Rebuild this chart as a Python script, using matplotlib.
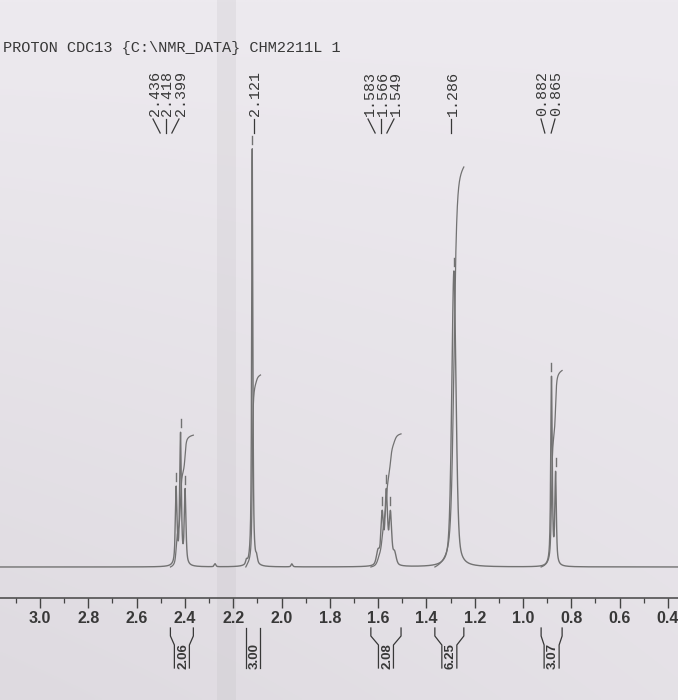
import numpy as np
import matplotlib
matplotlib.use("Agg")
import matplotlib.pyplot as plt

# ---------------- data ----------------
title = "PROTON CDC13 {C:\\NMR_DATA} CHM2211L 1"

peak_ppm = [2.436, 2.418, 2.399, 2.121, 1.583, 1.566, 1.549, 1.286, 0.882, 0.865]
peak_height = [76, 130, 74, 418, 50, 72, 50, 296, 188, 90]
peak_hwhm = [0.0040, 0.0040, 0.0040, 0.0028, 0.0060, 0.0060, 0.0060, 0.0105, 0.0036, 0.0036]
peak_lorentz = [0.7, 0.7, 0.7, 0.8, 0.5, 0.5, 0.5, 0.45, 0.7, 0.7]
peak_labels = ["2.436", "2.418", "2.399", "2.121", "1.583", "1.566", "1.549",
               "1.286", "0.882", "0.865"]
peak_group = [0, 0, 0, 1, 2, 2, 2, 3, 4, 4]

minor_ppm = [2.275, 2.145, 2.103, 1.957, 1.600, 1.532]
minor_height = [3, 4, 6, 3, 14, 12]
minor_hwhm = [0.004, 0.004, 0.004, 0.004, 0.008, 0.008]

integral_values = [2.06, 3.00, 2.08, 6.25, 3.07]
integral_labels = ["2.06", "3.00", "2.08", "6.25", "3.07"]
integral_start = [2.460, 2.148, 1.630, 1.365, 0.925]
integral_end = [2.365, 2.087, 1.505, 1.245, 0.838]

tick_values = [3.0, 2.8, 2.6, 2.4, 2.2, 2.0, 1.8, 1.6, 1.4, 1.2, 1.0, 0.8, 0.6, 0.4]
tick_labels = ["3.0", "2.8", "2.6", "2.4", "2.2", "2.0", "1.8", "1.6", "1.4",
               "1.2", "1.0", "0.8", "0.6", "0.4"]

# ---------------- layout ----------------
W, H = 678, 700
PX_PER_PPM = 241.5
X3_PX = 40.0          # pixel x of 3.0 ppm
BASE_PX = 567.0       # pixel y of spectrum baseline
INT_SCALE = 64.0      # px per integral unit
label_px = [153, 166, 179, 254, 368, 381, 394, 451, 541, 555]

PAPER = "#e8e5e9"
INK = "#383838"
LINE = "#727272"


def px2ppm(px):
    return 3.0 - (px - X3_PX) / PX_PER_PPM


def ppm2px(p):
    return X3_PX + (3.0 - p) * PX_PER_PPM


def ypx(py):
    return BASE_PX - py


fig = plt.figure(figsize=(W / 100, H / 100), dpi=100, facecolor=PAPER)
ax = fig.add_axes([0, 0, 1, 1], facecolor=PAPER)

# paper shading (photo)
gy, gx = np.mgrid[0:1:200j, 0:1:200j]
shade = 0.55 * gy + 0.45 * (1 - gx) * gy
top_c = np.array([237, 234, 239]) / 255
bot_c = np.array([222, 218, 224]) / 255
img = top_c[None, None, :] * (1 - shade[..., None]) + bot_c[None, None, :] * shade[..., None]
ax.imshow(img, extent=[0, 1, 0, 1], transform=ax.transAxes, aspect="auto",
          zorder=-10, interpolation="bilinear")
# copier stripe
ax.axvspan(px2ppm(217), px2ppm(236), color="#b9b6ba", alpha=0.18, lw=0, zorder=-5)

# spectrum
x = np.linspace(0.30, 3.25, 12000)


def pv(xx, x0, w, eta):
    d = ((xx - x0) / w) ** 2
    return eta / (1 + d) + (1 - eta) * np.exp(-np.log(2) * d)


spec = np.zeros_like(x)
for p, h, w, e in zip(peak_ppm, peak_height, peak_hwhm, peak_lorentz):
    spec += h * pv(x, p, w, e)
for p, h, w in zip(minor_ppm, minor_height, minor_hwhm):
    spec += h * pv(x, p, w, 0.5)

ax.plot(x, spec, color=LINE, lw=1.0, solid_joinstyle="round")

# integrals
for v, s, e in zip(integral_values, integral_start, integral_end):
    m = (x <= s) & (x >= e)
    xs = x[m][::-1]
    ys = spec[m][::-1]
    cum = np.cumsum(ys)
    cum = cum / cum[-1] * v * INT_SCALE
    ax.plot(xs, cum, color=LINE, lw=0.9)

# peak tick marks
for p in peak_ppm:
    top = np.interp(p, x, spec)
    ax.plot([p, p], [top + 5, top + 13], color=LINE, lw=1.0)

# peak labels with connectors
groups = {}
for i, g in enumerate(peak_group):
    groups.setdefault(g, []).append(i)
for g, idx in groups.items():
    cx = np.mean([label_px[i] for i in idx])
    for i in idx:
        lx = label_px[i]
        bx = cx + (lx - cx) * 0.45
        ax.plot([px2ppm(lx), px2ppm(bx)], [ypx(119), ypx(133)], color=INK, lw=0.9)
        ax.text(px2ppm(lx + 1.5), ypx(116), peak_labels[i], rotation=90, ha="center",
                va="bottom", family="Liberation Mono", fontsize=10.8, color=INK)

# integral brackets
for lab, s, e in zip(integral_labels, integral_start, integral_end):
    oL, oR = ppm2px(s), ppm2px(e)
    c = (oL + oR) / 2
    hw = min(7.5, (oR - oL) / 2)
    iL, iR = c - hw, c + hw
    for o, ii in ((oL, iL), (oR, iR)):
        xs = [px2ppm(o), px2ppm(o), px2ppm(ii), px2ppm(ii)]
        ys = [ypx(628), ypx(636), ypx(645), ypx(668)]
        ax.plot(xs, ys, color=INK, lw=0.9)
    ax.text(px2ppm(c + 1.5), ypx(656), lab, rotation=90, ha="center", va="center",
            family="Liberation Sans", fontweight="bold", fontsize=9.5, color=INK)

# axis
for sp in ("top", "left", "right"):
    ax.spines[sp].set_visible(False)
ax.spines["bottom"].set_position(("data", ypx(598)))
ax.spines["bottom"].set_color("#444444")
ax.spines["bottom"].set_linewidth(1.1)
ax.yaxis.set_visible(False)
ax.set_xticks(tick_values, tick_labels, fontweight="bold",
              family="Liberation Sans", fontsize=11.5, color=INK)
ax.set_xticks(np.round(np.arange(0.4, 3.15, 0.1), 2), minor=True)
ax.tick_params(axis="x", which="major", direction="out", length=7, width=1.0,
               pad=2.5, color="#444444")
ax.tick_params(axis="x", which="minor", direction="out", length=3.5, width=0.9,
               color="#444444")
ax.set_xlim(px2ppm(0), px2ppm(W))
ax.set_ylim(BASE_PX - H, BASE_PX)

fig.text(3 / W, 1 - 48 / H, title, family="Liberation Mono", fontsize=11,
         ha="left", va="center", color=INK)

fig.savefig("out.png", dpi=100, facecolor=PAPER)
